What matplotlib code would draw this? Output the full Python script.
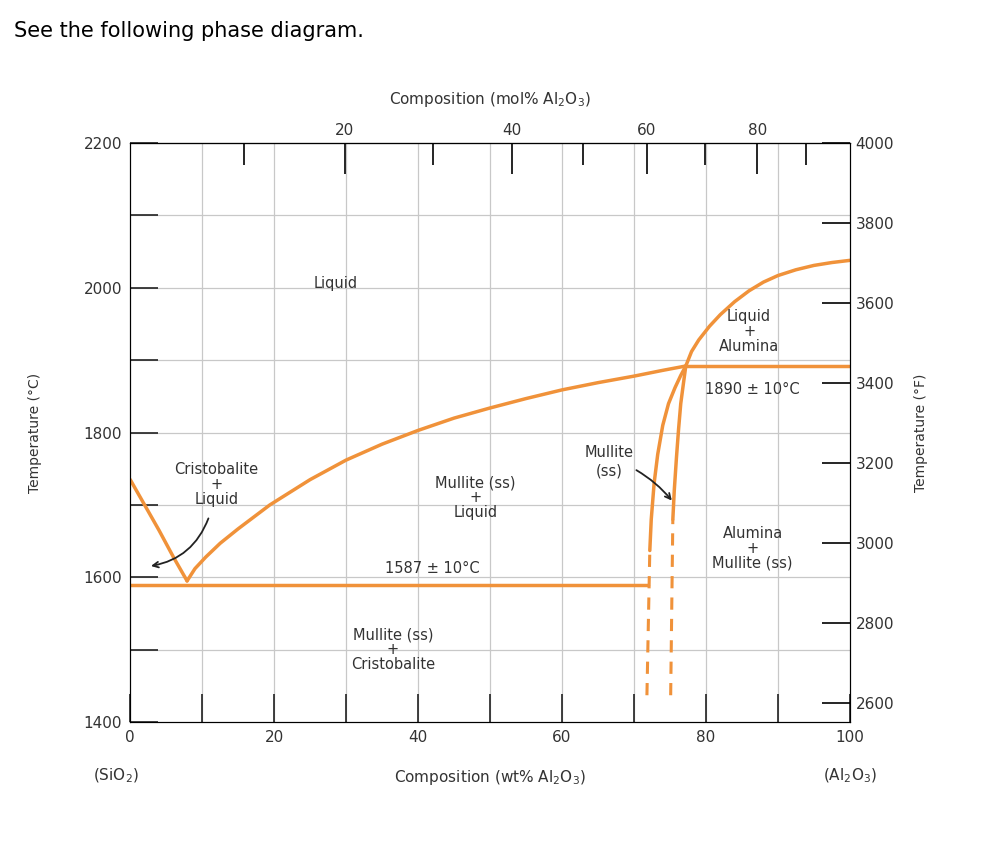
import numpy as np
import matplotlib.pyplot as plt

orange = '#f0923a'
# data (wt% Al2O3, temperature °C)
liq_left_x = [0, 2, 4, 6, 7.9]; liq_left_t = [1735, 1700, 1665, 1628, 1595]
liq_mull_x = [7.9, 9, 10.5, 12.5, 15, 19.4, 25, 30, 35, 40, 45, 50, 55, 60, 65, 70, 74, 77.2]
liq_mull_t = [1595, 1612, 1628, 1647, 1667, 1700, 1735, 1762, 1784, 1803, 1820, 1834, 1847, 1859, 1869, 1878, 1886, 1892]
liq_alu_x = [77.2, 78, 79, 80.5, 82, 84, 86, 88, 90, 92.5, 95, 97.5, 100]
liq_alu_t = [1892, 1912, 1928, 1947, 1963, 1981, 1996, 2008, 2017, 2025, 2031, 2035, 2038]
eut1_x = [0, 72]; eut1_t = [1590, 1590]
eut2_x = [77.2, 100]; eut2_t = [1892, 1892]
mull_l_x = [72.2, 72.4, 72.8, 73.3, 74.0, 74.8, 75.7, 76.5, 77.2]
mull_l_t = [1637, 1680, 1730, 1770, 1810, 1840, 1862, 1879, 1892]
mull_r_x = [75.4, 75.6, 75.9, 76.2, 76.5, 76.9, 77.2]
mull_r_t = [1680, 1720, 1765, 1805, 1840, 1870, 1892]
dash_l_x = [71.8, 72.2]; dash_l_t = [1437, 1637]
dash_r_x = [75.1, 75.4]; dash_r_t = [1437, 1680]
bottom_ticks = [0, 20, 40, 60, 80, 100]
left_ticks = [1400, 1600, 1800, 2000, 2200]
right_ticks = [2600, 2800, 3000, 3200, 3400, 3600, 3800, 4000]
top_ticks = [20, 40, 60, 80]

def mol2wt(m):
    m = np.asarray(m, float)
    return m*101.96/(m*101.96+(100-m)*60.08)*100
def wt2mol(w):
    w = np.asarray(w, float)
    a = w/101.96; b = (100-w)/60.08
    return a/(a+b)*100

txtc = '#333333'
fig = plt.figure(figsize=(9.94, 8.42), dpi=100)
fig.text(0.014, 0.975, 'See the following phase diagram.', fontsize=15, va='top')
ax = fig.add_axes([0.131, 0.1425, 0.724, 0.6875])
ax.set_xlim(0, 100); ax.set_ylim(1400, 2200)
for x in range(10, 100, 10):
    ax.axvline(x, color='#c8c8c8', lw=0.9, zorder=0)
for y in range(1500, 2200, 100):
    ax.axhline(y, color='#c8c8c8', lw=0.9, zorder=0)
kw = dict(color=orange, lw=2.5, solid_capstyle='round', solid_joinstyle='round')
for xs, ts in [(liq_left_x, liq_left_t), (liq_mull_x, liq_mull_t), (liq_alu_x, liq_alu_t),
               (eut1_x, eut1_t), (eut2_x, eut2_t), (mull_l_x, mull_l_t), (mull_r_x, mull_r_t)]:
    ax.plot(xs, ts, **kw)
for xs, ts in [(dash_l_x, dash_l_t), (dash_r_x, dash_r_t)]:
    ax.plot(xs, ts, color=orange, lw=2.2, ls=(0, (4, 3)))

ax.set_xticks(bottom_ticks)
ax.set_xticks(range(0, 101, 10), minor=True)
ax.set_yticks(left_ticks)
ax.set_yticks(range(1400, 2201, 100), minor=True)
ax.tick_params(axis='both', which='both', direction='in', length=20, width=1.2,
               labelsize=11, labelcolor=txtc, color='#222222', pad=6)

top = ax.secondary_xaxis('top', functions=(wt2mol, mol2wt))
top.set_xticks(top_ticks)
top.set_xticks(range(10, 100, 10), minor=True)
top.tick_params(which='major', direction='in', length=22, width=1.2, labelsize=11, labelcolor=txtc)
top.tick_params(which='minor', direction='in', length=16, width=1.2)
top.set_xlabel('Composition (mol% Al$_2$O$_3$)', fontsize=11, labelpad=14, color=txtc)

right = ax.twinx()
right.set_ylim(1400*1.8+32, 4000)
right.set_yticks(right_ticks)
right.tick_params(direction='in', length=20, width=1.2, labelsize=11, pad=4, labelcolor=txtc)
right.set_ylabel('Temperature (°F)', fontsize=10, labelpad=14, color=txtc)

ax.set_xlabel('Composition (wt% Al$_2$O$_3$)', fontsize=11, labelpad=16, color=txtc)
ax.set_ylabel('Temperature (°C)', fontsize=10, labelpad=30, color=txtc)
ax.text(-2, 1320, '(SiO$_2$)', fontsize=11, ha='center', color=txtc, clip_on=False)
ax.text(100, 1320, '(Al$_2$O$_3$)', fontsize=11, ha='center', color=txtc, clip_on=False)

fs = 10.5
ax.text(28.5, 2000, 'Liquid', fontsize=fs, ha='center', color=txtc)
ax.text(12, 1728, 'Cristobalite\n+\nLiquid', fontsize=fs, ha='center', va='center', linespacing=1.0, color=txtc)
ax.text(48, 1710, 'Mullite (ss)\n+\nLiquid', fontsize=fs, ha='center', va='center', linespacing=1.0, color=txtc)
ax.text(66.5, 1760, 'Mullite\n(ss)', fontsize=fs, ha='center', va='center', linespacing=1.3, color=txtc)
ax.text(86, 1940, 'Liquid\n+\nAlumina', fontsize=fs, ha='center', va='center', linespacing=1.0, color=txtc)
ax.text(86.5, 1860, '1890 ± 10°C', fontsize=fs, ha='center', va='center', color=txtc)
ax.text(86.5, 1640, 'Alumina\n+\nMullite (ss)', fontsize=fs, ha='center', va='center', linespacing=1.0, color=txtc)
ax.text(42, 1612, '1587 ± 10°C', fontsize=fs, ha='center', va='center', color=txtc)
ax.text(36.5, 1500, 'Mullite (ss)\n+\nCristobalite', fontsize=fs, ha='center', va='center', linespacing=1.0, color=txtc)
ax.annotate('', xy=(2.5, 1615), xytext=(11, 1685),
            arrowprops=dict(arrowstyle='->', color='#222222', lw=1.3, connectionstyle='arc3,rad=-0.3'))
ax.annotate('', xy=(75.5, 1703), xytext=(70, 1750),
            arrowprops=dict(arrowstyle='->', color='#222222', lw=1.3, connectionstyle='arc3,rad=-0.1'))
fig.savefig('out.png', dpi=100)
